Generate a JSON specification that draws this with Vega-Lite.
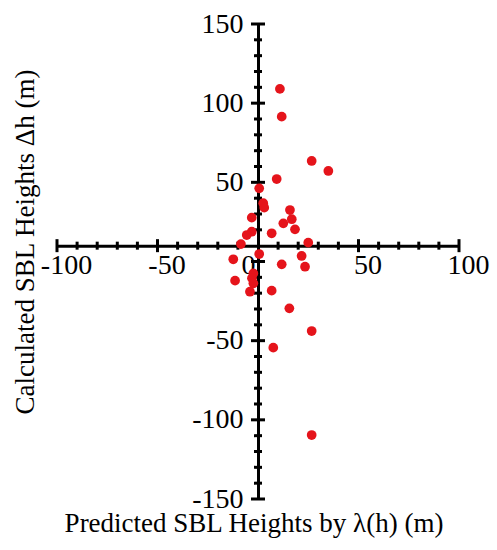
{
  "$schema": "https://vega.github.io/schema/vega-lite/v6.json",
  "width": 402,
  "height": 475,
  "autosize": "none",
  "padding": {"left": 57, "top": 24, "right": 38, "bottom": 51},
  "background": "white",
  "config": {"view": {"stroke": null}, "font": "Liberation Serif"},
  "datasets": {
    "points": [
      {"predicted": 10.9, "calculated": 109},
      {"predicted": 11.8, "calculated": 91.5},
      {"predicted": 26.7, "calculated": 63.5},
      {"predicted": 35, "calculated": 57.2},
      {"predicted": 9.3, "calculated": 52.1},
      {"predicted": 0.6, "calculated": 46.2},
      {"predicted": 2.6, "calculated": 36.8},
      {"predicted": 3.1, "calculated": 34},
      {"predicted": 15.9, "calculated": 32.5},
      {"predicted": 16.8, "calculated": 26.7},
      {"predicted": 12.6, "calculated": 24.1},
      {"predicted": 18.4, "calculated": 20.3},
      {"predicted": -3.1, "calculated": 27.7},
      {"predicted": 6.8, "calculated": 17.8},
      {"predicted": -3.1, "calculated": 18.8},
      {"predicted": -5.6, "calculated": 16.7},
      {"predicted": -8.5, "calculated": 11},
      {"predicted": 25, "calculated": 11.9},
      {"predicted": 0.6, "calculated": 4.7},
      {"predicted": -12.3, "calculated": 1.4},
      {"predicted": 21.7, "calculated": 3.5},
      {"predicted": 11.8, "calculated": -1.8},
      {"predicted": 23.4, "calculated": -3.3},
      {"predicted": -2.3, "calculated": -7.5},
      {"predicted": -3, "calculated": -10.5},
      {"predicted": -11.4, "calculated": -12.1},
      {"predicted": -2.3, "calculated": -13.8},
      {"predicted": -4, "calculated": -19.1},
      {"predicted": 6.8, "calculated": -18.4},
      {"predicted": 15.6, "calculated": -29.6},
      {"predicted": 26.7, "calculated": -43.9},
      {"predicted": 7.6, "calculated": -54.4},
      {"predicted": 26.7, "calculated": -109.6}
    ],
    "xticks": [
      {"tick": -100, "major": true}, {"tick": -90, "major": false}, {"tick": -80, "major": false},
      {"tick": -70, "major": false}, {"tick": -60, "major": false}, {"tick": -50, "major": true},
      {"tick": -40, "major": false}, {"tick": -30, "major": false}, {"tick": -20, "major": false},
      {"tick": -10, "major": false}, {"tick": 10, "major": false}, {"tick": 20, "major": false},
      {"tick": 30, "major": false}, {"tick": 40, "major": false}, {"tick": 50, "major": true},
      {"tick": 60, "major": false}, {"tick": 70, "major": false}, {"tick": 80, "major": false},
      {"tick": 90, "major": false}, {"tick": 100, "major": true}
    ],
    "yticks": [
      {"tick": -150, "major": true}, {"tick": -140, "major": false}, {"tick": -130, "major": false},
      {"tick": -120, "major": false}, {"tick": -110, "major": false}, {"tick": -100, "major": true},
      {"tick": -90, "major": false}, {"tick": -80, "major": false}, {"tick": -70, "major": false},
      {"tick": -60, "major": false}, {"tick": -50, "major": true}, {"tick": -40, "major": false},
      {"tick": -30, "major": false}, {"tick": -20, "major": false}, {"tick": -10, "major": false},
      {"tick": 0, "major": true}, {"tick": 20, "major": false}, {"tick": 30, "major": false},
      {"tick": 40, "major": false}, {"tick": 50, "major": true}, {"tick": 60, "major": false},
      {"tick": 70, "major": false}, {"tick": 80, "major": false}, {"tick": 90, "major": false},
      {"tick": 100, "major": true}, {"tick": 110, "major": false}, {"tick": 120, "major": false},
      {"tick": 130, "major": false}, {"tick": 140, "major": false}, {"tick": 150, "major": true}
    ]
  },
  "layer": [
    {
      "data": {"name": "xticks"},
      "mark": {"type": "tick", "orient": "vertical", "thickness": 3, "color": "black", "opacity": 1},
      "encoding": {
        "x": {"field": "tick", "type": "quantitative"},
        "y": {"datum": 10, "type": "quantitative"},
        "size": {"condition": {"test": "datum.major", "value": 13}, "value": 8}
      }
    },
    {
      "data": {"name": "yticks"},
      "mark": {"type": "tick", "orient": "horizontal", "thickness": 3, "color": "black", "opacity": 1},
      "encoding": {
        "y": {"field": "tick", "type": "quantitative"},
        "x": {"datum": 0, "type": "quantitative"},
        "size": {"condition": {"test": "datum.major", "value": 14}, "value": 8}
      }
    },
    {
      "data": {"name": "points"},
      "mark": {"type": "circle", "size": 95, "color": "#e5141b", "opacity": 1},
      "encoding": {
        "x": {
          "field": "predicted",
          "type": "quantitative",
          "scale": {"domain": [-100, 100], "nice": false, "zero": false},
          "axis": {
            "title": "Predicted SBL Heights by λ(h) (m)",
            "orient": "bottom",
            "offset": -253.33,
            "values": [-100, -50, 0, 50, 100],
            "labelExpr": "'' + datum.value",
            "grid": false,
            "domainColor": "black",
            "domainWidth": 3,
            "ticks": false,
            "labelFont": "Liberation Serif",
            "labelFontSize": 28,
            "labelColor": "black",
            "labelPadding": 6,
            "labelBaseline": "top",
            "labelOffset": {"condition": {"test": "datum.value === 0", "value": -10}, "value": 9},
            "labelFlush": false,
            "labelOverlap": false,
            "titleFont": "Liberation Serif",
            "titleFontSize": 27,
            "titleFontWeight": "normal",
            "titleColor": "black",
            "titleX": 196.5,
            "titleY": 286,
            "titleAlign": "center",
            "titleBaseline": "alphabetic"
          }
        },
        "y": {
          "field": "calculated",
          "type": "quantitative",
          "scale": {"domain": [-150, 150], "nice": false, "zero": false},
          "axis": {
            "title": "Calculated SBL Heights Δh (m)",
            "orient": "left",
            "offset": -201,
            "values": [-150, -100, -50, 50, 100, 150],
            "labelExpr": "'' + datum.value",
            "grid": false,
            "domainColor": "black",
            "domainWidth": 3,
            "ticks": false,
            "labelFont": "Liberation Serif",
            "labelFontSize": 28,
            "labelColor": "black",
            "labelPadding": 15,
            "labelAlign": "right",
            "labelBaseline": "middle",
            "labelFlush": false,
            "labelOverlap": false,
            "titleFont": "Liberation Serif",
            "titleFontSize": 27,
            "titleFontWeight": "normal",
            "titleColor": "black",
            "titleAngle": 270,
            "titleX": -225,
            "titleY": 217.5,
            "titleAlign": "center",
            "titleBaseline": "alphabetic"
          }
        }
      }
    }
  ]
}
